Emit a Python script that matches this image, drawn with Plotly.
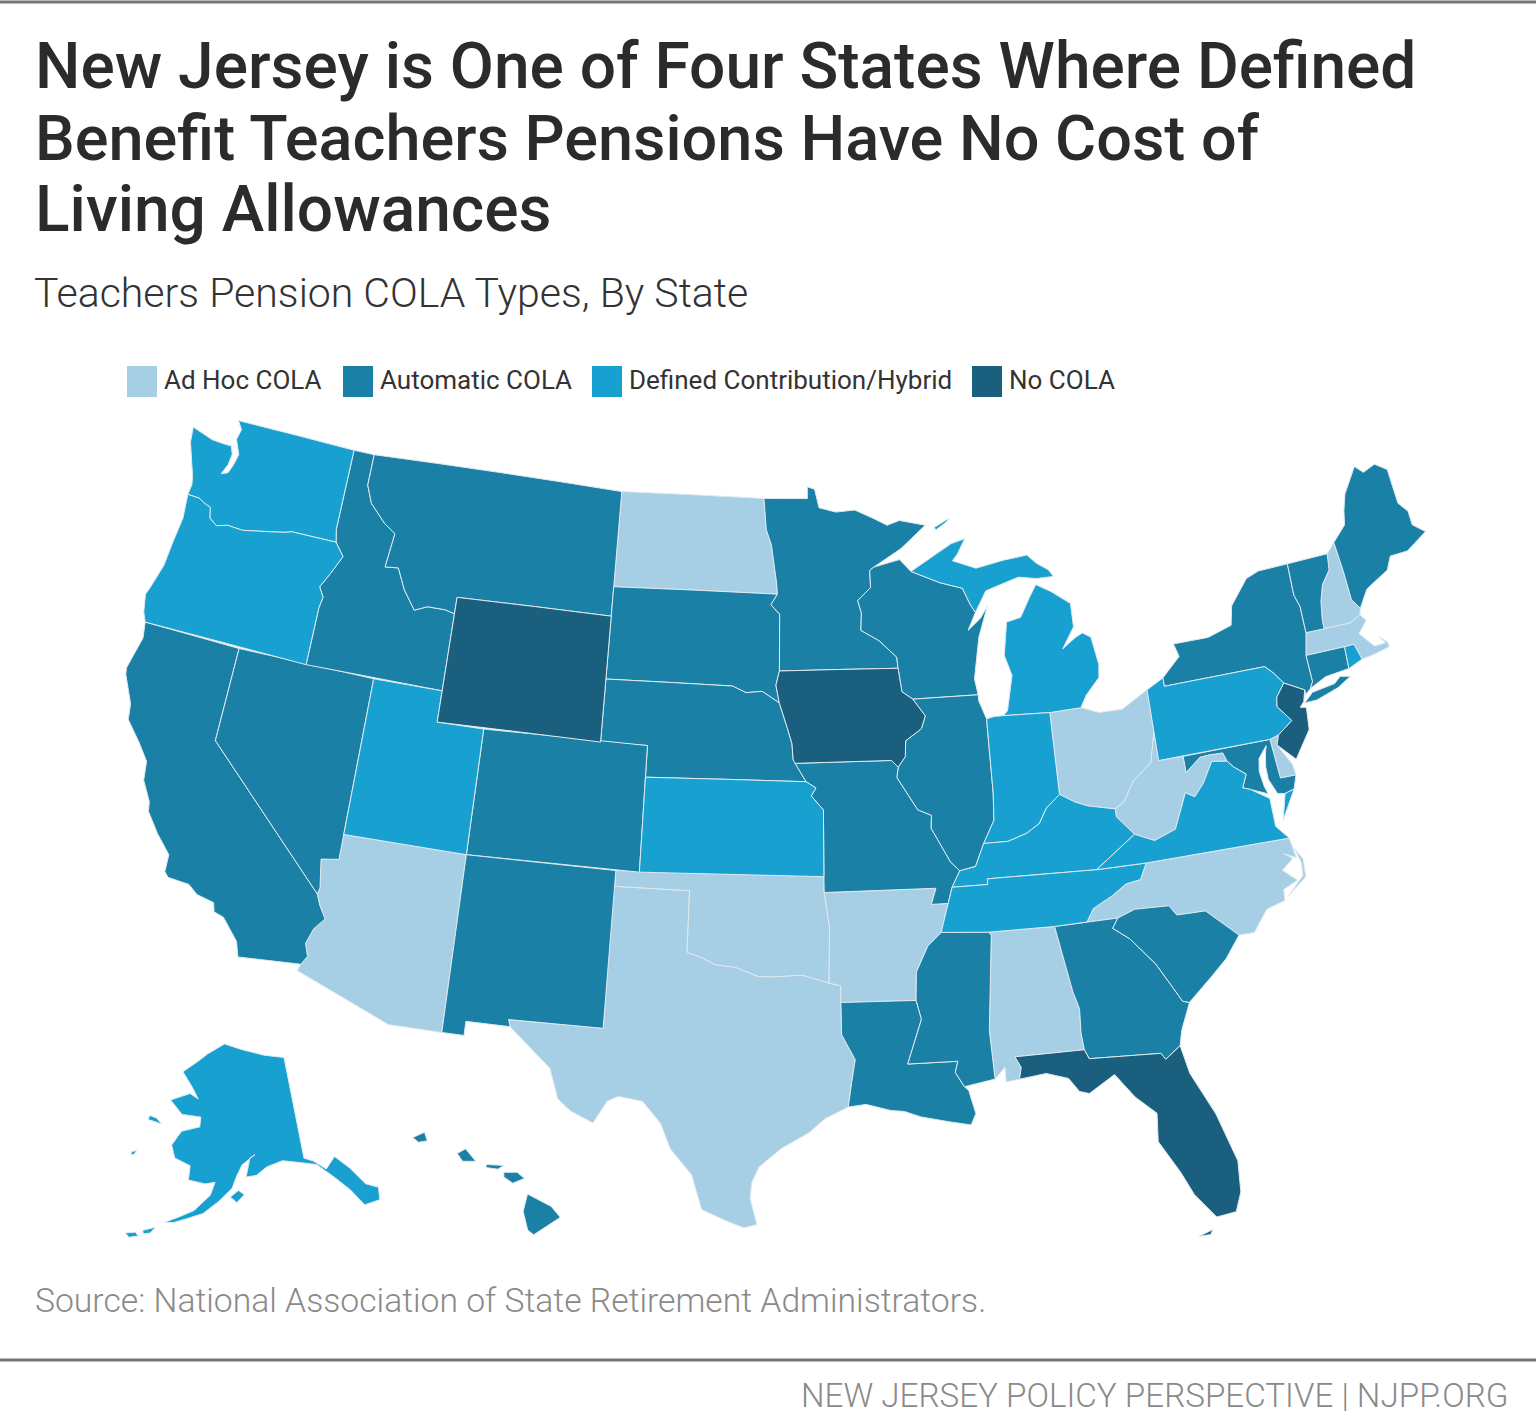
import plotly.graph_objects as go

# COLA type of every state
ad_hoc = ["ND", "AZ", "TX", "OK", "AR", "AL", "OH", "WV", "NC", "NH", "MA", "DE"]
automatic = ["CA", "NV", "ID", "MT", "SD", "NE", "CO", "NM", "MN", "WI", "IL", "MO", "LA", "MS", "GA", "SC",
             "NY", "VT", "ME", "CT", "MD", "HI"]
defined = ["WA", "OR", "UT", "KS", "MI", "IN", "KY", "TN", "VA", "PA", "RI", "AK"]
no_cola = ["WY", "IA", "FL", "NJ"]

colors = ["#a6cee5", "#1a80a5", "#18a0d0", "#1a5f7d"]
names = ["Ad Hoc COLA", "Automatic COLA", "Defined Contribution/Hybrid", "No COLA"]

# state outlines, lon/lat. the cdn topojson can't be reached offline so they live here
WA = [[(-122.76,49),(-122.5,48.75),(-122.6,48.4),(-122.3,47.95),(-122.4,47.6),(-122.55,47.3),(-122.85,47.2),(-122.65,47.55),(-122.6,47.9),(-122.75,48.15),(-123.15,48.15),(-123.7,48.17),(-124.73,48.38),(-124.65,47.9),(-124.35,47.35),(-124.1,46.9),(-124,46.6),(-124.05,46.27),(-123.5,46.26),(-123.2,46.15),(-122.9,46.08),(-122.78,45.75),(-122.4,45.57),(-121.9,45.68),(-121.2,45.65),(-120.6,45.74),(-119.9,45.84),(-119.3,45.93),(-119,46),(-116.92,46),(-117.04,46.4),(-117.04,49)]]
OR = [[(-124.05,46.27),(-123.5,46.26),(-123.2,46.15),(-122.9,46.08),(-122.78,45.75),(-122.4,45.57),(-121.9,45.68),(-121.2,45.65),(-120.6,45.74),(-119.9,45.84),(-119.3,45.93),(-119,46),(-116.92,46),(-116.47,45.6),(-116.85,45),(-117.2,44.5),(-116.95,44.2),(-117.03,43.85),(-117.03,42),(-124.21,42),(-124.4,42.3),(-124.55,42.84),(-124.4,43.2),(-124.15,43.9),(-124.07,44.7),(-123.95,45.5)]]
CA = [[(-124.21,42),(-124.1,41.5),(-124.4,40.45),(-124.35,40.25),(-123.8,39.4),(-123.7,38.9),(-123,38.3),(-122.5,37.8),(-122.4,37.2),(-121.95,36.6),(-121.88,36.3),(-121.3,35.7),(-120.65,35.15),(-120.63,34.6),(-120.45,34.45),(-119.6,34.4),(-119.2,34.15),(-118.5,34.03),(-118.4,33.75),(-118,33.65),(-117.3,33),(-117.12,32.53),(-114.72,32.72),(-114.53,33),(-114.7,33.4),(-114.5,33.9),(-114.14,34.27),(-114.44,34.65),(-114.63,35),(-120,39),(-120,42)]]
NV = [[(-120,42),(-120,39),(-114.63,35),(-114.57,35.2),(-114.75,36.1),(-114.05,36.2),(-114.05,42)]]
ID = [[(-117.04,49),(-117.04,46.4),(-116.92,46),(-116.47,45.6),(-116.85,45),(-117.2,44.5),(-116.95,44.2),(-117.03,43.85),(-117.03,42),(-111.05,42),(-111.05,44.47),(-111.5,44.55),(-112.3,44.55),(-112.85,44.37),(-113.45,44.95),(-113.9,45.6),(-114.5,45.55),(-114.35,46.65),(-114.9,46.9),(-115.7,47.45),(-116.05,48),(-116.05,49)]]
MT = [[(-116.05,49),(-104.05,49),(-104.05,45),(-111.05,45),(-111.05,44.47),(-111.5,44.55),(-112.3,44.55),(-112.85,44.37),(-113.45,44.95),(-113.9,45.6),(-114.5,45.55),(-114.35,46.65),(-114.9,46.9),(-115.7,47.45),(-116.05,48)]]
WY = [[(-111.05,45),(-104.05,45),(-104.05,41),(-111.05,41)]]
UT = [[(-114.05,42),(-111.05,42),(-111.05,41),(-109.05,41),(-109.05,37),(-114.05,37)]]
CO = [[(-109.05,41),(-102.05,41),(-102.05,37),(-109.05,37)]]
AZ = [[(-114.05,37),(-109.05,37),(-109.05,31.33),(-111.07,31.33),(-114.81,32.5),(-114.72,32.72),(-114.53,33),(-114.7,33.4),(-114.5,33.9),(-114.14,34.27),(-114.44,34.65),(-114.63,35),(-114.57,35.2),(-114.75,36.1),(-114.05,36.2)]]
NM = [[(-109.05,37),(-103,37),(-103.04,32),(-106.62,32),(-106.53,31.78),(-108.21,31.78),(-108.21,31.33),(-109.05,31.33)]]
TX = [[(-103.04,36.5),(-100,36.5),(-100,34.56),(-99.4,34.4),(-98.9,34.2),(-98.1,34.13),(-97.2,33.85),(-96.6,33.85),(-95.5,33.9),(-94.48,33.64),(-94.04,33.55),(-94.04,33.02),(-94.04,32),(-93.55,31.2),(-93.7,30.5),(-93.85,29.7),(-94.7,29.35),(-95.3,28.9),(-96.3,28.4),(-97.1,27.8),(-97.35,27.3),(-97.4,26.8),(-97.15,25.96),(-97.6,25.85),(-98.2,26.05),(-99.1,26.4),(-99.5,27.5),(-100.3,28.3),(-100.7,29.1),(-101.4,29.77),(-102.3,29.88),(-102.7,29.7),(-103.15,28.98),(-104,29.3),(-104.5,29.65),(-104.9,30.6),(-106,31.4),(-106.53,31.78),(-106.62,32),(-103.04,32)]]
OK = [[(-103,37),(-94.62,37),(-94.62,36.5),(-94.43,35.4),(-94.48,33.64),(-95.5,33.9),(-96.6,33.85),(-97.2,33.85),(-98.1,34.13),(-98.9,34.2),(-99.4,34.4),(-100,34.56),(-100,36.5),(-103,36.5)]]
KS = [[(-102.05,40),(-95.31,40),(-94.9,39.8),(-95.1,39.55),(-94.6,39.1),(-94.62,37),(-102.05,37)]]
NE = [[(-104.05,43),(-98.5,43),(-97.9,42.8),(-97.2,42.85),(-96.45,42.49),(-96.1,41.7),(-95.9,41.2),(-95.85,40.7),(-95.31,40),(-102.05,40),(-102.05,41),(-104.05,41)]]
SD = [[(-104.05,45.94),(-96.56,45.94),(-96.85,45.6),(-96.45,45.3),(-96.45,43.5),(-96.6,43.05),(-96.45,42.49),(-97.2,42.85),(-97.9,42.8),(-98.5,43),(-104.05,43)]]
ND = [[(-104.05,49),(-97.23,49),(-97.1,48),(-96.85,47.5),(-96.6,46.3),(-96.56,45.94),(-104.05,45.94)]]
MN = [[(-97.23,49),(-95.15,49),(-95.15,49.38),(-94.8,49.3),(-94.6,48.7),(-93.8,48.55),(-92.9,48.6),(-92,48.3),(-91.4,48.07),(-90.8,48.2),(-89.6,48),(-90.8,47.3),(-92.1,46.75),(-92.3,46.65),(-92.29,46.1),(-92.9,45.7),(-92.75,45.3),(-92.8,44.75),(-92,44.4),(-91.25,43.85),(-91.22,43.5),(-96.45,43.5),(-96.45,45.3),(-96.85,45.6),(-96.56,45.94),(-96.6,46.3),(-96.85,47.5),(-97.1,48)]]
IA = [[(-96.45,43.5),(-91.22,43.5),(-91.1,42.75),(-90.65,42.5),(-90.15,41.95),(-90.35,41.55),(-91.05,41.2),(-91.1,40.7),(-91.42,40.38),(-91.7,40.6),(-95.77,40.58),(-95.85,40.7),(-95.9,41.2),(-96.1,41.7),(-96.45,42.49),(-96.6,43.05)]]
MO = [[(-95.77,40.58),(-91.7,40.6),(-91.42,40.38),(-91.5,40.05),(-90.7,39),(-90.15,38.8),(-90.2,38.4),(-89.5,37.3),(-89.15,37),(-89.5,36.5),(-89.7,36),(-90.37,36),(-90.15,36.5),(-94.62,36.5),(-94.62,37),(-94.6,39.1),(-95.1,39.55),(-94.9,39.8),(-95.31,40)]]
AR = [[(-94.62,36.5),(-90.15,36.5),(-90.37,36),(-89.7,36),(-90.05,35.1),(-90.6,34.7),(-91.1,33.9),(-91.17,33),(-94.04,33.02),(-94.04,33.55),(-94.48,33.64),(-94.43,35.4)]]
LA = [[(-94.04,33.02),(-91.17,33),(-91,32.4),(-91.6,31),(-89.73,31),(-89.85,30.65),(-89.55,30.18),(-89.4,30.05),(-89.2,29.3),(-89.4,28.95),(-90.2,29.1),(-91.2,29.3),(-91.8,29.5),(-92.3,29.55),(-93.2,29.77),(-93.85,29.7),(-93.7,30.5),(-93.55,31.2),(-94.04,32)]]
MS = [[(-91.6,31),(-91,32.4),(-91.17,33),(-91.1,33.9),(-90.6,34.7),(-90.05,35.1),(-88.2,35),(-88.1,34.9),(-88.47,31.9),(-88.4,30.35),(-89.55,30.18),(-89.85,30.65),(-89.73,31)]]
AL = [[(-88.2,35),(-85.6,34.98),(-85.18,32.87),(-85,32.3),(-85.05,31.55),(-85,31),(-87.6,31),(-87.4,30.65),(-87.5,30.28),(-88,30.23),(-88,30.7),(-88.4,30.35),(-88.47,31.9),(-88.1,34.9)]]
GA = [[(-85.6,34.98),(-83.1,35),(-83.35,34.7),(-82.75,34.3),(-81.9,33.4),(-81.4,32.6),(-81.1,32.1),(-80.85,32.03),(-81.3,31.2),(-81.45,30.72),(-82.05,30.36),(-82.2,30.57),(-84.86,30.7),(-85,31),(-85.05,31.55),(-85,32.3),(-85.18,32.87)]]
FL = [[(-87.6,31),(-85,31),(-84.86,30.7),(-82.2,30.57),(-82.05,30.36),(-81.45,30.72),(-81.25,29.8),(-80.55,28.4),(-80.05,26.8),(-80.13,25.8),(-80.4,25.2),(-81.1,25.13),(-81.75,25.95),(-82.1,26.7),(-82.75,27.8),(-82.65,28.7),(-83.35,29.3),(-84,30.1),(-85,29.6),(-85.35,29.7),(-85.7,30.15),(-86.5,30.38),(-87.5,30.28),(-87.4,30.65)],
      [(-81.8,24.6),(-81.3,24.75),(-81.4,24.6)]]
SC = [[(-83.35,34.7),(-83.1,35),(-82.4,35.2),(-81.05,35.15),(-80.8,34.82),(-79.67,34.8),(-78.55,33.86),(-79.2,33.2),(-79.9,32.7),(-80.85,32.03),(-81.1,32.1),(-81.4,32.6),(-81.9,33.4),(-82.75,34.3)]]
NC = [[(-84.32,35),(-83.1,35),(-82.4,35.2),(-81.05,35.15),(-80.8,34.82),(-79.67,34.8),(-78.55,33.86),(-77.95,33.85),(-77.3,34.5),(-76.55,34.65),(-76.5,35),(-75.9,35.2),(-76.4,35.6),(-75.9,35.9),(-76.2,36.1),(-75.75,35.9),(-75.87,36.55),(-81.68,36.59),(-82,36.1),(-82.6,36.03),(-83.2,35.72),(-84,35.4)],
      [(-76.4,34.75),(-75.55,35.25),(-75.5,35.8),(-75.75,36.2),(-75.6,35.7),(-75.65,35.3)]]
TN = [[(-90.05,35.1),(-89.7,36),(-89.5,36.5),(-88.07,36.5),(-88.07,36.68),(-83.68,36.6),(-81.68,36.59),(-82,36.1),(-82.6,36.03),(-83.2,35.72),(-84,35.4),(-84.32,35),(-85.6,34.98),(-88.2,35)]]
KY = [[(-89.5,36.5),(-89.15,37),(-88.5,37.1),(-88.1,37.8),(-87.1,37.8),(-86.3,38),(-85.75,38.27),(-85.4,38.72),(-84.8,39.1),(-84.2,38.8),(-83.7,38.63),(-82.6,38.42),(-82.6,38.17),(-81.97,37.54),(-83.68,36.6),(-88.07,36.68),(-88.07,36.5)]]
VA = [[(-83.68,36.6),(-81.68,36.59),(-75.87,36.55),(-76.3,37),(-76.3,37.9),(-77,38.3),(-77.3,38.4),(-77.05,38.8),(-77.5,39.1),(-77.72,39.32),(-78.35,39.4),(-78.87,38.76),(-79.3,38.4),(-79.65,38.58),(-80.3,37.5),(-81.2,37.25),(-81.97,37.54)],
      [(-75.95,37.15),(-75.65,37.95),(-75.25,38.03)]]
WV = [[(-81.97,37.54),(-81.2,37.25),(-80.3,37.5),(-79.65,38.58),(-79.3,38.4),(-78.87,38.76),(-78.35,39.4),(-77.72,39.32),(-77.83,39.6),(-78.4,39.62),(-78.8,39.6),(-79.48,39.2),(-79.48,39.72),(-80.52,39.72),(-80.52,40.64),(-80.85,39.7),(-81.7,39.2),(-82.2,38.6),(-82.6,38.42),(-82.6,38.17)]]
OH = [[(-84.8,41.7),(-83.45,41.73),(-82.7,41.5),(-81.7,41.5),(-80.52,41.98),(-80.52,40.64),(-80.85,39.7),(-81.7,39.2),(-82.2,38.6),(-82.6,38.42),(-83.7,38.63),(-84.2,38.8),(-84.8,39.1)]]
IN = [[(-87.53,41.71),(-87.2,41.76),(-86.8,41.76),(-84.8,41.7),(-84.8,39.1),(-85.4,38.72),(-85.75,38.27),(-86.3,38),(-87.1,37.8),(-88.1,37.8),(-87.6,38.5),(-87.53,39.35)]]
IL = [[(-87.53,41.71),(-87.8,42.3),(-87.8,42.49),(-90.65,42.5),(-90.15,41.95),(-90.35,41.55),(-91.05,41.2),(-91.1,40.7),(-91.42,40.38),(-91.5,40.05),(-90.7,39),(-90.15,38.8),(-90.2,38.4),(-89.5,37.3),(-89.15,37),(-88.5,37.1),(-88.1,37.8),(-87.6,38.5),(-87.53,39.35)]]
WI = [[(-92.29,46.1),(-92.3,46.65),(-92.1,46.75),(-90.9,46.95),(-90.4,46.55),(-89.1,46.13),(-88.1,45.9),(-87.8,45.35),(-87.6,45.1),(-88,44.55),(-87.4,44.9),(-87.05,45.25),(-87.55,44.3),(-87.9,43),(-87.8,42.49),(-90.65,42.5),(-91.1,42.75),(-91.22,43.5),(-91.25,43.85),(-92,44.4),(-92.8,44.75),(-92.75,45.3),(-92.9,45.7)]]
MI = [[(-86.8,41.76),(-84.8,41.7),(-83.45,41.73),(-83.15,42.1),(-82.5,42.6),(-82.42,43),(-82.6,43.9),(-82.95,44.07),(-83.3,43.95),(-83.9,43.65),(-83.3,44.3),(-83.3,45.05),(-84.1,45.5),(-84.75,45.78),(-85.1,45.4),(-85.6,44.8),(-86.25,44.7),(-86.5,43.65),(-86.25,43),(-86.6,41.9)],
      [(-90.4,46.55),(-89.8,46.8),(-88.45,47.35),(-87.8,47.47),(-88.2,47),(-88.45,46.8),(-87.4,46.5),(-86.1,46.67),(-85,46.75),(-84.6,46.45),(-84.1,46.2),(-83.9,45.97),(-84.7,45.97),(-85.5,46.08),(-86.6,45.85),(-87.05,45.75),(-87.6,45.1),(-87.8,45.35),(-88.1,45.9),(-89.1,46.13)],
      [(-89.2,47.9),(-88.45,48.17),(-88.6,48.05),(-89.1,47.83)]]
PA = [[(-80.52,41.98),(-79.76,42.27),(-79.76,42),(-75.35,42),(-75.05,41.75),(-74.7,41.36),(-75.13,40.97),(-75.2,40.68),(-74.72,40.15),(-75.4,39.8),(-75.79,39.72),(-80.52,39.72)]]
NY = [[(-79.76,42.27),(-78.9,42.85),(-79.05,43.27),(-77.5,43.27),(-76.4,43.5),(-76.2,44.1),(-75.3,44.85),(-74.7,45),(-73.35,45.01),(-73.4,44),(-73.25,43.6),(-73.27,42.75),(-73.5,42.05),(-73.49,41.2),(-73.65,41),(-73.9,40.85),(-73.9,41),(-74.7,41.36),(-75.05,41.75),(-75.35,42),(-79.76,42)],
      [(-74.03,40.6),(-73.6,40.87),(-72.6,40.97),(-72.3,41.15),(-71.87,41.07),(-72.5,40.82),(-73.5,40.6)]]
NJ = [[(-74.7,41.36),(-73.9,41),(-74.05,40.65),(-74.25,40.5),(-74,40.45),(-74.1,39.75),(-74.9,38.93),(-75.55,39.5),(-75.4,39.8),(-74.72,40.15),(-75.2,40.68),(-75.13,40.97)]]
DE = [[(-75.79,39.72),(-75.4,39.8),(-75.55,39.5),(-75.1,38.8),(-75.05,38.45),(-75.7,38.46)]]
MD = [[(-79.48,39.72),(-75.79,39.72),(-75.7,38.46),(-75.05,38.45),(-75.25,38.03),(-75.65,37.95),(-75.95,38),(-76.2,38.5),(-76.2,38.9),(-76.1,39.3),(-76,39.55),(-76.4,39.2),(-76.5,38.8),(-76.42,38.3),(-76.32,38.05),(-77,38.3),(-77.3,38.4),(-77.05,38.8),(-77.5,39.1),(-77.72,39.32),(-77.83,39.6),(-78.4,39.62),(-78.8,39.6),(-79.48,39.2)]]
CT = [[(-73.5,42.05),(-71.8,42.02),(-71.85,41.32),(-72.9,41.25),(-73.65,41),(-73.49,41.2)]]
RI = [[(-71.8,42.02),(-71.38,42.02),(-71.2,41.5),(-71.85,41.32)]]
MA = [[(-73.27,42.75),(-71.3,42.7),(-70.8,42.87),(-70.6,42.65),(-71.05,42.3),(-70.55,41.8),(-70.05,41.8),(-70.25,42.05),(-69.95,41.8),(-69.95,41.65),(-70.65,41.55),(-71.2,41.5),(-71.38,42.02),(-71.8,42.02),(-73.5,42.05)]]
VT = [[(-73.35,45.01),(-71.5,45.01),(-71.6,44.5),(-72.05,44.1),(-72.3,43.6),(-72.45,43),(-72.46,42.73),(-73.27,42.75),(-73.25,43.6),(-73.4,44)]]
NH = [[(-71.5,45.01),(-71.08,45.3),(-71,44.3),(-70.98,43.4),(-70.7,43.07),(-70.8,42.87),(-71.3,42.7),(-72.46,42.73),(-72.45,43),(-72.3,43.6),(-72.05,44.1),(-71.6,44.5)]]
ME = [[(-71.08,45.3),(-70.4,45.75),(-70.25,46.2),(-70,46.7),(-69.23,47.46),(-68.9,47.2),(-68.3,47.35),(-67.8,47.07),(-67.78,45.94),(-67.45,45.6),(-67.45,45.15),(-66.97,44.82),(-68,44.4),(-68.8,44.4),(-69.1,44),(-69.8,43.75),(-70.2,43.6),(-70.7,43.07),(-70.98,43.4),(-71,44.3)]]
AK = [[(-141,69.65),(-141,60.3),(-139.5,59.9),(-137.5,58.9),(-135.5,59.8),(-133.5,58.4),(-131.8,56.6),(-130,55.9),(-130.5,54.8),(-133,54.8),(-134.5,56.5),(-136.5,58),(-139,59.5),(-142,60),(-145,60.4),(-148,60),(-150,59.3),(-151.8,59.2),(-151,60.9),(-150,61.2),(-152.5,60.3),(-153.5,59.3),(-154.3,58.2),(-156.5,57),(-159,55.8),(-161.5,55.2),(-163.5,54.7),(-164.9,54.6),(-163,55.2),(-160.5,56),(-158,57.5),(-157.3,58.7),(-159,58.5),(-162,58.7),(-162,60),(-165,60.5),(-166,61.6),(-165,62.6),(-164.5,63),(-161,63.6),(-161,64.5),(-165,64.5),(-168,65.6),(-164,66.5),(-162,66.1),(-163.7,67.1),(-166.5,68.35),(-163,69.6),(-161,70.3),(-156.6,71.35),(-152,70.85),(-146,70.15)],
      [(-154.6,57.4),(-153.2,58),(-152.2,57.6),(-153.5,56.9)],
      [(-173,60.2),(-172.2,60.4),(-172.5,60),(-173,59.9)],
      [(-171.7,63.4),(-168.8,63.3),(-170,63.7),(-171.5,63.8)],
      [(-168,53.5),(-166.2,54),(-166.8,53.4),(-167.8,53.2)],
      [(-170.5,52.9),(-169,53.2),(-168.5,52.9),(-169.8,52.6)]]
HI = [[(-155.9,20.25),(-155.1,19.85),(-154.8,19.5),(-155.7,18.95),(-155.9,19.1),(-156.05,19.7)],
      [(-156.7,20.95),(-156.25,20.95),(-156,20.75),(-156.4,20.6),(-156.7,20.8)],
      [(-158.28,21.55),(-158,21.7),(-157.65,21.3),(-158.1,21.3)],
      [(-159.8,22.05),(-159.4,22.22),(-159.3,21.95),(-159.6,21.9)],
      [(-157.3,21.2),(-156.7,21.17),(-156.9,21.05),(-157.3,21.1)]]

outlines = dict(WA=WA, OR=OR, CA=CA, NV=NV, ID=ID, MT=MT, WY=WY, UT=UT, CO=CO, AZ=AZ, NM=NM, TX=TX, OK=OK, KS=KS, NE=NE,
                SD=SD, ND=ND, MN=MN, IA=IA, MO=MO, AR=AR, LA=LA, MS=MS, AL=AL, GA=GA, FL=FL, SC=SC, NC=NC, TN=TN, KY=KY,
                VA=VA, WV=WV, OH=OH, IN=IN, IL=IL, WI=WI, MI=MI, PA=PA, NY=NY, NJ=NJ, DE=DE, MD=MD, CT=CT, RI=RI, MA=MA,
                VT=VT, NH=NH, ME=ME, AK=AK, HI=HI)

W, H = 1536, 1427


def clockwise(ring):
    # d3 fills the outside of a counter-clockwise ring
    area = sum(a[0] * b[1] - b[0] * a[1] for a, b in zip(ring, ring[1:] + ring[:1]))
    return ring[::-1] if area > 0 else ring


fig = go.Figure()
for name, states, color in zip(names, [ad_hoc, automatic, defined, no_cola], colors):
    for state in states:
        lon, lat = [], []
        for ring in outlines[state]:
            ring = clockwise(ring)
            ring = ring + ring[:1]
            lon += [p[0] for p in ring] + [None]
            lat += [p[1] for p in ring] + [None]
        fig.add_trace(go.Scattergeo(lon=lon[:-1], lat=lat[:-1], mode="lines", fill="toself", fillcolor=color, name=state,
                                    line=dict(color="#dfe9ef", width=1), hoverinfo="name", showlegend=False))

fig.update_geos(scope="usa", projection_type="albers usa", projection_scale=1.172, bgcolor="white", showland=False,
                showlakes=False, showframe=False, showcoastlines=False, showsubunits=False, showcountries=False,
                showocean=False, showrivers=False, domain=dict(x=[0.0496, 0.9596], y=[0.1233, 0.7233]))


def text(x, y, s, size, color, family="Roboto", weight=None):
    fig.add_annotation(x=x / W, y=1 - y / H, xref="paper", yref="paper", text=s, showarrow=False,
                       xanchor="left", yanchor="middle", font=dict(size=size, color=color, family=family, weight=weight))


# title block
text(33, 66, "New Jersey is One of Four States Where Defined", 64, "#2b2b2b", weight=500)
text(33, 138, "Benefit Teachers Pensions Have No Cost of", 63, "#2b2b2b", weight=500)
text(33, 210, "Living Allowances", 64, "#2b2b2b", weight=500)
text(32, 293, "Teachers Pension COLA Types, By State", 41, "#333333", weight=300)
text(33, 1300, "Source: National Association of State Retirement Administrators.", 33.7, "#8a8a8a", weight=300)
text(799, 1395, "NEW JERSEY POLICY PERSPECTIVE | NJPP.ORG", 33.2, "#8a8a8a", weight=300)

# legend row
legend_x = [127, 343, 592, 972]
for x, name, color in zip(legend_x, names, colors):
    fig.add_shape(type="rect", xref="paper", yref="paper", x0=x / W, x1=(x + 30) / W,
                  y0=1 - 397 / H, y1=1 - 366 / H, fillcolor=color, line_width=0)
    text(x + 35, 380, name, 26, "#333333")

# rules at top and bottom
for y in [2, 1360]:
    fig.add_shape(type="line", xref="paper", yref="paper", x0=0, x1=1, y0=1 - y / H, y1=1 - y / H,
                  line=dict(color="#777777", width=3))

fig.update_layout(width=W, height=H, margin=dict(l=0, r=0, t=0, b=0), paper_bgcolor="white", showlegend=False)
# plotly clips the map to the lower 48 box, which would cut off Alaska, Hawaii and the tips
page_css = """var s = document.createElement('style');
s.textContent = 'body{margin:0} .geolayer, .geolayer *{clip-path:none !important}';
document.head.appendChild(s);"""
fig.write_html("out.html", post_script=page_css, config=dict(displayModeBar=False))
